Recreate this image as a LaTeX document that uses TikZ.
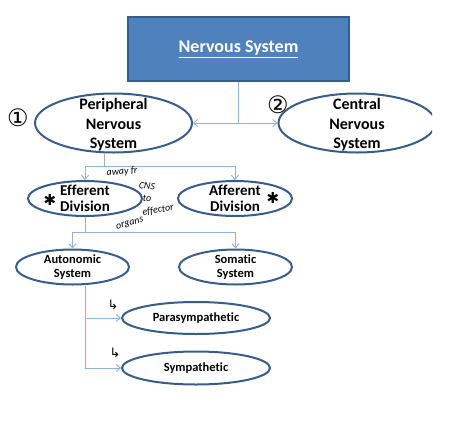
\documentclass[tikz,border=0pt]{standalone}
\usepackage{fontspec}
\setmainfont{Carlito}[Ligatures=NoCommon]
\newfontfamily\symfont{DejaVu Sans}
\usetikzlibrary{shapes.geometric, arrows.meta}
\definecolor{boxblue}{HTML}{4F81BD}
\definecolor{edgeblue}{HTML}{385D8A}
\definecolor{linkblue}{HTML}{8EB4E3}

\begin{document}
\begin{tikzpicture}[x=1pt, y=-1pt,
  oval/.style={ellipse, draw=edgeblue, line width=2pt, fill=white, inner sep=0pt},
  txtl/.style={font=\fontsize{16}{19.5}\selectfont\bfseries, align=center, yshift=-2pt},
  txtm/.style={font=\fontsize{15}{16.5}\selectfont\bfseries, align=center},
  txts/.style={font=\fontsize{12.5}{14.5}\selectfont\bfseries, align=center},
  note/.style={font=\fontsize{10}{10}\selectfont\itshape, inner sep=0pt},
  hand/.style={font=\symfont\fontsize{#1}{#1}\selectfont, inner sep=0pt},
  line/.style={draw=linkblue, line width=1pt},
  arr/.style={line, -{Straight Barb[length=4pt, width=7pt]}},
]
\useasboundingbox (0,0) rectangle (474,426);
\clip (0,0) rectangle (432,426);

\node[draw=edgeblue, line width=2pt, fill=boxblue, minimum width=221pt,
      minimum height=64pt, text=white, font=\fontsize{18}{20}\selectfont\bfseries]
  (ns) at (238.5,49) {\underline{Nervous System}};

\node[oval, minimum width=157pt, minimum height=59pt] (pns) at (113.5,123) {};
\node[txtl] at (pns) {Peripheral\\Nervous\\System};
\node[oval, minimum width=157pt, minimum height=59pt] (cns) at (357,123) {};
\node[txtl] at (cns) {Central\\Nervous\\System};

\node[oval, minimum width=114pt, minimum height=35pt] (eff) at (85,198.5) {};
\node[txtm] at (eff) {Efferent\\Division};
\node[oval, minimum width=114pt, minimum height=35pt] (aff) at (235,198.5) {};
\node[txtm] at (aff) {Afferent\\Division};

\node[oval, minimum width=113pt, minimum height=35pt] (aut) at (72.5,267) {};
\node[txts] at (aut) {Autonomic\\System};
\node[oval, minimum width=113pt, minimum height=35pt] (som) at (235.5,267) {};
\node[txts] at (som) {Somatic\\System};

\node[oval, minimum width=148pt, minimum height=32pt] (para) at (196,318) {};
\node[txts] at (para) {Parasympathetic};
\node[oval, minimum width=148pt, minimum height=33pt] (sym) at (196,368) {};
\node[txts] at (sym) {Sympathetic};

\draw[arr] (ns.south) |- (pns.east);
\draw[arr] (ns.south) |- (cns.west);

\coordinate (pj) at (104,166);
\draw[line] (pns.south -| pj) -- (pj);
\draw[arr] (pj) -| (eff.north);
\draw[arr] (pj) -| (aff.north);

\coordinate (ej) at (85,232);
\draw[line] (eff.south) -- (ej);
\draw[arr] (ej) -| (aut.north);
\draw[arr] (ej) -| (som.north);

\coordinate (aj) at (aut.south -| ej);
\draw[arr] (aj) |- (para.west);
\draw[arr] (aj) |- (sym.west);

% handwritten marks
\node[hand=24] (n1) at (18,118) {①};
\node[hand=24] (n2) at (278,105) {②};
\node[hand=15] (s1) at (50,200) {✱};
\node[hand=15] (s2) at (273,198) {✱};
\node[hand=13] (h1) at (113,305) {↳};
\node[hand=13] (h2) at (115,353) {↳};
\node[note, rotate=5] (w1) at (122,172) {away fr};
\node[note, rotate=-8] (w2) at (147,186) {CNS};
\node[note] (w3) at (147,198) {to};
\node[note, rotate=10] (w4) at (158,210) {effector};
\node[note, rotate=15] (w5) at (130,224) {organs};
\end{tikzpicture}
\end{document}
